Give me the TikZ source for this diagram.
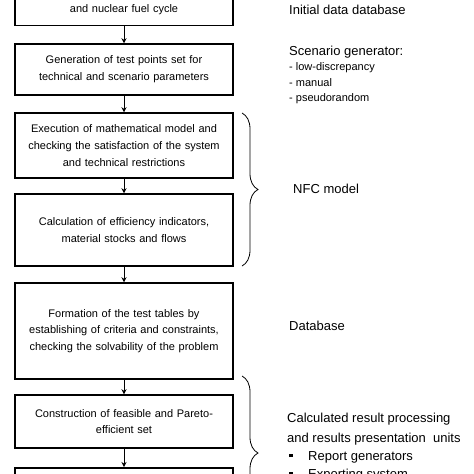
\documentclass[tikz,border=0pt]{standalone}
\usepackage{fontspec}
\setmainfont{Liberation Sans}
\usetikzlibrary{arrows.meta,positioning,decorations.pathreplacing}
\newcommand\sqbullet{\makebox[21pt][l]{\hspace{2pt}\rule[3pt]{3.5pt}{3.5pt}}}

\begin{document}
\begin{tikzpicture}[
  x=1pt,y=-1pt,
  every node/.style={inner sep=0pt},
  stepbox/.style={draw,line width=1.5pt,minimum width=218pt,text width=205pt,align=center,
    font=\fontsize{11}{16.7}\selectfont},
  note/.style={anchor=base west,align=left,font=\fontsize{13}{16}\selectfont},
  flow/.style={line width=0.8pt,-{Stealth[length=5pt,width=5pt]}},
  group/.style={line width=0.8pt,decorate,decoration={brace,amplitude=16pt}}
]
\useasboundingbox (0,0) rectangle (474,474);
\clip (0,0) rectangle (474,474);

\node[stepbox,text height=40pt,text depth=13pt,anchor=south] (cycle) at (124,26) {and nuclear fuel cycle};
\node[stepbox,minimum height=51pt] (gen) at (124,69.5) {Generation of test points set for\\technical and scenario parameters};
\node[stepbox,minimum height=65pt] (exec) at (124,145.5) {Execution of mathematical model and\\checking the satisfaction of the system\\and technical restrictions};
\node[stepbox,minimum height=72pt] (calc) at (124,230) {Calculation of efficiency indicators,\\material stocks and flows};
\node[stepbox,minimum height=96pt] (form) at (124,331) {Formation of the test tables by\\establishing of criteria and constraints,\\checking the solvability of the problem};
\node[stepbox,minimum height=53pt] (pareto) at (124,421.5) {Construction of feasible and Pareto-\\efficient set};
\node[stepbox,minimum height=40pt,anchor=north] (next) at (124,467) {};

\foreach \a/\b in {cycle/gen,gen/exec,exec/calc,calc/form,form/pareto,pareto/next}
  \draw[flow] (\a) -- (\b);

\coordinate (nfctop) at (242,113);
\coordinate (nfcbot) at (242,266);
\coordinate (restop) at (242,376);
\coordinate (resbot) at (242,530);
\draw[group] (nfctop) -- (nfcbot);
\draw[group] (restop) -- (resbot);

\node[note] (initial) at (289,14) {Initial data database};
\node[note,font=\fontsize{11}{15.5}\selectfont] (scen) at (289,101.5) {{\fontsize{13}{15.5}\selectfont Scenario generator:}\\- low-discrepancy\\- manual\\- pseudorandom};
\node[note] (nfc) at (293,193) {NFC model};
\node[note] (db) at (289,330) {Database};
\node[note,font=\fontsize{13}{18}\selectfont] (results) at (287,478) {Calculated result processing\\[2pt]and results presentation\ \ units\\\sqbullet Report generators\\\sqbullet Exporting system};
\end{tikzpicture}
\end{document}
